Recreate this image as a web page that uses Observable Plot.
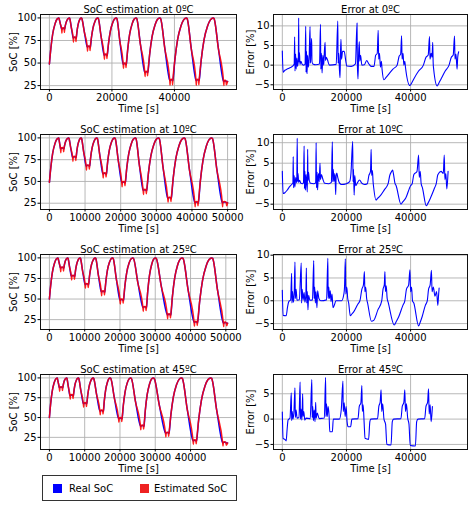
<!DOCTYPE html>
<html><head><meta charset="utf-8">
<script src="https://cdn.jsdelivr.net/npm/d3@7"></script>
<script src="https://cdn.jsdelivr.net/npm/@observablehq/plot@0.6"></script>
<style>
body{margin:0;background:#fff;}
#root{position:relative;width:474px;height:505px;font-family:"DejaVu Sans",sans-serif;background:#fff;overflow:hidden;}
#legend{position:absolute;left:42px;top:475px;width:195px;height:26px;border:1px solid #333;box-sizing:border-box;font-size:10px;color:#000;}
#legend .sw{position:absolute;top:8px;width:9px;height:9px;}
#legend .lb{position:absolute;top:6px;line-height:13px;white-space:nowrap;}
</style></head>
<body><div id="root"><div id="legend">
<div class="sw" style="left:10px;background:#0000ff"></div><div class="lb" style="left:26px">Real SoC</div>
<div class="sw" style="left:97px;background:#ee2222"></div><div class="lb" style="left:111px">Estimated SoC</div>
</div></div>
<script>
const temps = ["0ºC", "10ºC", "25ºC", "45ºC"];

// [time s, real SoC %, estimated SoC %]
const soc0C = [[0,49,49],
[450,65.8,65.8],[1050,82.2,82.2],[1800,93.4,93.4],[2400,98.5,98.5],[3000,100,100],
[3070,99.5,99.5],[3450,94.3,93.8],[3900,88,88],
[4000,87.5,83],[4100,88,88.5],[4400,88.5,89],[4700,88,88],[4800,87.5,84],[4900,88,88],
[5125,92,92],[5425,95.8,95.8],[5800,98.4,98.4],[6100,99.6,99.6],[6400,100,100],
[6500,99.4,99.4],[7000,89.9,89.4],[7600,78,78],
[7700,77.5,73],[7800,78,78.5],[8100,78.5,79],[8400,78,78],[8500,77.5,74],[8600,78,78],
[8840,85.3,85.3],[9160,92.3,92.3],[9560,97.1,97.1],[9880,99.3,99.3],[10200,100,100],
[10350,99.4,99.4],[11150,85.2,84.7],[12100,68,68],
[12200,67.5,63],[12300,68,68.5],[12600,68.5,69],[12900,68,68],[13000,67.5,64],[13100,68,68],
[13460,78.6,78.6],[13940,88.8,88.8],[14540,95.8,95.8],[15020,99,99],[15500,100,100],
[15660,99.4,99.4],[16500,80.3,79.8],[17500,59,59],
[17600,58.5,54],[17700,59,59.5],[18000,59.5,60],[18300,59,59],[18400,58.5,55],[18500,59,59],
[18935,72.5,72.5],[19515,85.7,85.7],[20240,94.7,94.7],[20820,98.8,98.8],[21400,100,100],
[21580,99.4,99.4],[22500,75.5,75],[23600,49,49],
[23700,48.5,44],[23800,49,49.5],[24100,49.5,50],[24400,49,49],[24500,48.5,45],[24600,49,49],
[25065,65.8,65.8],[25685,82.2,82.2],[26460,93.4,93.4],[27080,98.5,98.5],[27700,100,100],
[27920,99.4,99.4],[29100,71.2,70.7],[30500,40,40],
[30600,39.5,35],[30700,40,40.5],[31000,40.5,41],[31300,40,40],[31400,39.5,36],[31500,40,40],
[32070,59.8,59.8],[32830,79,79],[33780,92.2,92.2],[34540,98.2,98.2],[35300,100,100],
[35560,99.4,99.4],[36900,66.9,66.4],[38500,31,31],
[38600,30.5,25.5],[38700,31,31.5],[39000,31.5,32],[39300,31,31],[39400,30.5,26],[39500,31,31],
[40145,53.8,53.8],[41005,75.9,75.9],[42080,91,91],[42940,97.9,97.9],[43800,100,100],
[44050,99.4,99.4],[45350,66.9,66.4],[46900,31,31],
[47000,30.5,25.5],[47100,31,31.5],[47400,31.5,32],[47700,31,31],[47800,30.5,26],[47900,31,31],
[48575,53.8,53.8],[49475,75.9,75.9],[50600,91,91],[51500,97.9,97.9],[52400,100,100],
[52660,99.4,99.4],[54050,66.4,65.9],[55700,30,30],
[55800,29.5,25],[55900,30,30.5],[56200,30.5,31],[56500,30,30],[56600,29.5,26],[57000,29.5,29.5]];

const soc10C = [[0,49,49],
[390,65.8,65.8],[910,82.2,82.2],[1560,93.4,93.4],[2080,98.5,98.5],[2600,100,100],
[2640,99.4,99.4],[2850,94.4,94],[3100,88,88],
[3200,87.5,83],[3300,88,88.5],[3600,88.5,89],[3900,88,88],[4000,87.5,84],[4100,88,88],
[4295,92,92],[4555,95.8,95.8],[4880,98.4,98.4],[5140,99.6,99.6],[5400,100,100],
[5490,99.4,99.4],[5950,89.5,89],[6500,78,78],
[6600,77.5,73],[6700,78,78.5],[7000,78.5,79],[7300,78,78],[7400,77.5,74],[7500,78,78],
[7710,85.3,85.3],[7990,92.3,92.3],[8340,97.1,97.1],[8620,99.3,99.3],[8900,100,100],
[9010,99.4,99.4],[9600,84.5,84],[10300,68,68],
[10400,67.5,63],[10500,68,68.5],[10800,68.5,69],[11100,68,68],[11200,67.5,64],[11300,68,68],
[11600,78.6,78.6],[12000,88.8,88.8],[12500,95.8,95.8],[12900,99,99],[13300,100,100],
[13440,99.4,99.4],[14150,80,79.5],[15000,59,59],
[15100,58.5,54],[15200,59,59.5],[15500,59.5,60],[15800,59,59],[15900,58.5,55],[16000,59,59],
[16345,72.5,72.5],[16805,85.7,85.7],[17380,94.7,94.7],[17840,98.8,98.8],[18300,100,100],
[18460,99.4,99.4],[19300,75,74.5],[20300,49,49],
[20400,48.5,44],[20500,49,49.5],[20800,49.5,50],[21100,49,49],[21200,48.5,45],[21300,49,49],
[21720,65.8,65.8],[22280,82.2,82.2],[22980,93.4,93.4],[23540,98.5,98.5],[24100,100,100],
[24280,99.4,99.4],[25200,70.5,70],[26300,40,40],
[26400,39.5,35],[26500,40,40.5],[26800,40.5,41],[27100,40,40],[27200,39.5,36],[27300,40,40],
[27795,59.8,59.8],[28455,79,79],[29280,92.2,92.2],[29940,98.2,98.2],[30600,100,100],
[30810,99.4,99.4],[31900,66,65.5],[33200,31,31],
[33300,30.5,26],[33400,31,31.5],[33700,31.5,32],[34000,31,31],[34100,30.5,27],[34200,31,31],
[34740,53.8,53.8],[35460,75.9,75.9],[36360,91,91],[37080,97.9,97.9],[37800,100,100],
[38040,99.4,99.4],[39300,63.5,63],[40800,26,26],
[40900,25.5,21],[41000,26,26.5],[41300,26.5,27],[41600,26,26],[41700,25.5,22],[41800,26,26],
[42355,50.4,50.4],[43095,74.1,74.1],[44020,90.4,90.4],[44760,97.8,97.8],[45500,100,100],
[45740,99.4,99.4],[47000,63.5,63],[48500,26,26],
[48600,25.5,21],[48700,26,26.5],[49100,26.5,27],[49600,26,26],[49750,25.5,22],[50000,25.5,25.5]];

const soc25C = [[0,50,50],
[360,66.5,66.5],[840,82.5,82.5],[1440,93.5,93.5],[1920,98.5,98.5],[2400,100,100],
[2460,99.4,99.4],[2750,94.4,94],[3100,88,88],
[3200,87.5,83],[3300,88,88.5],[3600,88.5,89],[3900,88,88],[4000,87.5,84],[4100,88,88],
[4265,92,92],[4485,95.8,95.8],[4760,98.4,98.4],[4980,99.6,99.6],[5200,100,100],
[5280,99.4,99.4],[5700,89.5,89],[6200,78,78],
[6300,77.5,73],[6400,78,78.5],[6700,78.5,79],[7000,78,78],[7100,77.5,74],[7200,78,78],
[7425,85.3,85.3],[7725,92.3,92.3],[8100,97.1,97.1],[8400,99.3,99.3],[8700,100,100],
[8810,99.4,99.4],[9400,84.5,84],[10100,68,68],
[10200,67.5,63],[10300,68,68.5],[10600,68.5,69],[10900,68,68],[11000,67.5,64],[11100,68,68],
[11385,78.6,78.6],[11765,88.8,88.8],[12240,95.8,95.8],[12620,99,99],[13000,100,100],
[13140,99.4,99.4],[13850,80,79.5],[14700,59,59],
[14800,58.5,54],[14900,59,59.5],[15200,59.5,60],[15500,59,59],[15600,58.5,55],[15700,59,59],
[16030,72.5,72.5],[16470,85.7,85.7],[17020,94.7,94.7],[17460,98.8,98.8],[17900,100,100],
[18070,99.4,99.4],[18950,75,74.5],[20000,49,49],
[20100,48.5,44],[20200,49,49.5],[20500,49.5,50],[20800,49,49],[20900,48.5,45],[21000,49,49],
[21390,65.8,65.8],[21910,82.2,82.2],[22560,93.4,93.4],[23080,98.5,98.5],[23600,100,100],
[23830,99.4,99.4],[25050,70.5,70],[26500,40,40],
[26600,39.5,35],[26700,40,40.5],[27000,40.5,41],[27300,40,40],[27400,39.5,36],[27500,40,40],
[27875,59.8,59.8],[28375,79,79],[29000,92.2,92.2],[29500,98.2,98.2],[30000,100,100],
[30270,99.4,99.4],[31700,66,65.5],[33400,31,31],
[33500,30.5,26],[33600,31,31.5],[33900,31.5,32],[34200,31,31],[34300,30.5,27],[34400,31,31],
[34880,53.8,53.8],[35520,75.9,75.9],[36320,91,91],[36960,97.9,97.9],[37600,100,100],
[37870,99.4,99.4],[39300,61.5,61],[41000,22,22],
[41100,21.5,17],[41200,22,22.5],[41500,22.5,23],[41800,22,22],[41900,21.5,18],[42000,22,22],
[42600,47.7,47.7],[43400,72.7,72.7],[44400,89.9,89.9],[45200,97.7,97.7],[46000,100,100],
[46260,99.4,99.4],[47650,61,60.5],[49300,21,21],
[49400,20.5,16.5],[49500,21,21.5],[49800,21.5,22],[50100,21,21],[50250,20.5,17.5],[50500,20.5,20.5]];

const soc45C = [[0,50,50],
[330,66.5,66.5],[770,82.5,82.5],[1320,93.5,93.5],[1760,98.5,98.5],[2200,100,100],
[2250,99.4,99.4],[2500,94.4,94],[2800,88,88],
[2900,87.5,83],[3000,88,88.5],[3300,88.5,89],[3600,88,88],[3700,87.5,84],[3800,88,88],
[3965,92,92],[4185,95.8,95.8],[4460,98.4,98.4],[4680,99.6,99.6],[4900,100,100],
[4970,99.4,99.4],[5350,89.5,89],[5800,78,78],
[5900,77.5,73],[6000,78,78.5],[6300,78.5,79],[6600,78,78],[6700,77.5,74],[6800,78,78],
[7010,85.3,85.3],[7290,92.3,92.3],[7640,97.1,97.1],[7920,99.3,99.3],[8200,100,100],
[8310,99.4,99.4],[8900,84.5,84],[9600,68,68],
[9700,67.5,63],[9800,68,68.5],[10100,68.5,69],[10400,68,68],[10500,67.5,64],[10600,68,68],
[10870,78.6,78.6],[11230,88.8,88.8],[11680,95.8,95.8],[12040,99,99],[12400,100,100],
[12550,99.4,99.4],[13350,79.8,79.3],[14300,58.5,58.5],
[14400,58,53.5],[14500,58.5,59],[14800,59,59.5],[15100,58.5,58.5],[15200,58,54.5],[15300,58.5,58.5],
[15585,72.2,72.2],[15965,85.5,85.5],[16440,94.6,94.6],[16820,98.8,98.8],[17200,100,100],
[17390,99.4,99.4],[18400,75,74.5],[19600,49,49],
[19700,48.5,44],[19800,49,49.5],[20100,49.5,50],[20400,49,49],[20500,48.5,45],[20600,49,49],
[20960,65.8,65.8],[21440,82.2,82.2],[22040,93.4,93.4],[22520,98.5,98.5],[23000,100,100],
[23220,99.4,99.4],[24400,70.3,69.8],[25800,39.5,39.5],
[25900,39,34.5],[26000,39.5,40],[26300,40,40.5],[26600,39.5,39.5],[26700,39,35.5],[26800,39.5,39.5],
[27190,59.5,59.5],[27710,78.8,78.8],[28360,92.1,92.1],[28880,98.2,98.2],[29400,100,100],
[29680,99.4,99.4],[31150,65.8,65.3],[32900,30.5,30.5],
[33000,30,25.5],[33100,30.5,31],[33400,31,31.5],[33700,30.5,30.5],[33800,30,26.5],[33900,30.5,30.5],
[34425,53.4,53.4],[35125,75.7,75.7],[36000,91,91],[36700,97.9,97.9],[37400,100,100],
[37660,99.4,99.4],[39050,61,60.5],[40700,21,21],
[40800,20.5,16],[40900,21,21.5],[41200,21.5,22],[41500,21,21],[41600,20.5,17],[41700,21,21],
[42300,47.1,47.1],[43100,72.4,72.4],[44100,89.7,89.7],[44900,97.6,97.6],[45700,100,100],
[45970,99.4,99.4],[47400,59.8,59.3],[49100,18.5,18.5],
[49200,18,14],[49300,18.5,19],[49600,19,19.5],[50000,18.5,18.5],[50150,18,15],[50500,18,18]];

// [time s, error %]
const err0C = [[0,3.6],[250,-1.8],[800,-1.3],[1500,-1.0],[2500,-0.6],[3300,-0.2],[3700,0.3],
[3850,7.2],[3950,-1.5],[4150,2.8],[4300,-1.0],[4550,1.8],[4750,-0.3],[5000,1.5],[5100,12.0],[5200,0.8],[5350,3.2],[5500,0.2],[5800,1.0],[6200,0.2],[6700,0.0],
[7100,0.3],[7300,9.9],[7400,-1.8],[7550,3.5],[7700,-2.2],[7900,2.5],[8100,-0.5],[8350,1.5],[8650,9.8],[8750,0.5],[8900,3.0],[9150,6.8],[9250,1.0],[9500,0.3],[10500,0.1],[11600,0.3],
[11900,10.4],[12000,-1.0],[12200,3.0],[12400,-2.0],[12650,2.5],[12900,0.0],[13150,4.0],[13350,5.8],[13450,1.2],[13700,2.0],[14100,1.3],[14700,0.0],[16800,0.2],
[17300,11.2],[17400,0.5],[17600,3.0],[17800,-1.0],[18000,-3.2],[18150,3.5],[18300,6.6],[18450,1.5],[18800,3.5],[19300,3.5],[19800,1.0],[20100,-0.2],[21500,-0.3],[22800,0.3],
[23300,10.7],[23400,0.5],[23600,-3.5],[23800,3.0],[24000,6.0],[24150,1.0],[24400,2.5],[24800,0.0],[25600,0.1],[26300,1.2],[27000,0.3],[27700,-0.3],[28600,-0.3],
[29100,2.5],[29600,3.0],[29900,8.9],[30050,1.5],[30300,3.0],[30600,-0.5],[30900,1.0],[31100,-1.0],[31700,-3.7],[32300,-3.2],[33000,-2.5],[34500,-1.0],[35800,0.0],
[36400,2.2],[36900,2.8],[37200,7.5],[37350,1.5],[37650,3.0],[37900,0.0],[38200,1.0],[38400,-0.5],[39800,-5.2],[40300,-4.6],[41000,-3.5],[42500,-1.5],[44000,0.0],
[44800,2.0],[45500,2.6],[45900,7.3],[46050,1.5],[46400,3.0],[46700,2.0],[46900,5.8],[47050,0.5],[47200,-1.0],[48300,-5.3],[48800,-4.6],[49500,-3.5],[50800,-1.5],[52000,0.0],
[52700,2.0],[53300,2.6],[53700,7.4],[53850,1.5],[54150,2.8],[54500,-1.0],[54700,2.0],[55000,3.4]];

const err10C = [[0,3.0],[250,-2.4],[800,-2.2],[1500,-1.6],[2200,-0.8],[2900,-0.2],[3300,0.2],
[3400,6.6],[3500,-1.0],[3700,2.0],[3900,-0.8],[4200,1.5],[4500,0.2],[4650,11.1],[4750,0.5],[4900,2.5],[5100,0.3],[5400,0.8],[5800,0.1],[6300,0.0],
[6600,0.3],[6800,9.2],[6900,-1.2],[7050,3.0],[7200,-1.6],[7400,2.2],[7600,0.2],[7800,-2.0],[7900,8.4],[8000,0.8],[8200,2.8],[8400,0.8],[8800,0.1],[9800,0.0],[10400,0.2],
[10550,10.0],[10650,-1.0],[10850,2.8],[11000,-1.5],[11250,2.5],[11500,0.5],[11750,5.0],[11900,1.0],[12200,2.2],[12600,1.2],[13200,0.1],[14500,0.0],[15300,0.3],
[15600,10.2],[15700,0.5],[15900,3.5],[16100,0.5],[16400,2.5],[16650,-2.7],[16800,2.0],[17000,2.6],[17300,1.5],[17800,0.2],[18500,-0.2],[20000,0.0],[21000,0.5],
[21400,2.5],[21950,10.3],[22050,0.5],[22200,3.5],[22400,-2.8],[22600,2.0],[22900,-0.5],[23400,0.2],[24100,0.9],[24700,0.2],[25600,-0.2],[26500,0.0],
[27000,2.0],[27500,3.0],[27700,8.4],[27850,2.0],[28100,3.2],[28300,0.5],[28500,-1.0],[29200,-4.0],[29700,-3.6],[30500,-3.0],[31800,-1.5],[33000,0.0],
[33500,2.0],[34100,3.0],[34400,3.3],[34700,2.2],[35100,0.2],[35500,-0.5],[37000,-5.0],[37500,-4.5],[38500,-3.5],[40000,-0.5],[40500,0.0],
[41000,2.2],[42000,3.0],[42500,7.0],[42700,1.5],[43000,3.0],[43300,0.0],[43700,-1.0],[44900,-5.4],[45400,-4.8],[46200,-3.5],[47500,-1.0],[48000,0.0],
[48500,2.2],[49500,3.0],[50200,2.5],[50500,7.0],[50700,1.0],[51000,2.5],[51300,-1.3],[51700,3.0]];

const err25C = [[0,2.3],[250,-3.2],[1200,-3.3],[1600,-1.5],[2000,-0.2],[2600,0.2],
[2900,6.0],[3000,-0.5],[3200,2.0],[3450,-0.3],[3700,1.5],[3950,8.5],[4050,0.5],[4300,2.5],[4600,0.1],[5300,0.2],
[5900,8.3],[6000,-0.5],[6200,2.5],[6500,0.2],[6800,1.8],[7050,-0.3],[7350,1.5],[7500,7.2],[7600,-0.5],[7800,2.0],[8000,-2.0],[8200,1.2],[8600,0.1],[9400,0.2],
[9800,8.8],[9900,0.5],[10100,3.0],[10300,-0.5],[10500,2.0],[10800,-1.5],[11000,2.2],[11400,0.5],[12000,0.0],[13800,0.2],
[14200,9.3],[14300,0.5],[14500,3.0],[14700,0.5],[14950,2.2],[15200,-0.2],[15500,1.5],[15800,-1.5],[16200,-1.0],[16700,0.0],[18500,0.0],[19200,1.5],
[19400,3.0],[19650,9.2],[19800,1.5],[20100,3.0],[20400,0.5],[20700,-0.5],[21200,-3.3],[21700,-2.9],[22200,-2.5],[23500,-0.8],[24200,0.0],
[24800,2.5],[25300,3.5],[25600,6.4],[25750,2.0],[26000,3.0],[26300,0.5],[26600,-0.5],[27800,-4.5],[28500,-4.3],[29800,-2.0],[31000,0.0],
[31400,2.5],[31800,3.5],[32000,6.4],[32150,2.0],[32400,3.3],[32700,0.5],[33000,-0.3],[34900,-5.3],[35500,-4.6],[36300,-3.5],[37600,-1.0],[38200,0.0],
[38700,2.5],[39400,3.5],[39800,6.8],[40000,2.0],[40300,3.0],[40600,0.0],[41000,-0.5],[42500,-5.5],[43000,-4.7],[43600,-3.5],[44600,-1.0],[45200,0.0],
[45600,2.5],[46100,3.5],[46500,6.7],[46700,2.0],[47100,3.0],[47600,1.0],[48100,2.0],[48500,-1.0],[48700,1.0],[48900,2.8]];

const err45C = [[0,1.4],[250,-3.8],[800,-4.0],[1200,-4.3],[1500,-2.0],[1800,-0.2],[2400,0.2],
[2800,5.2],[2900,-0.3],[3100,1.5],[3300,0.0],[3600,1.2],[3950,6.2],[4050,0.3],[4300,1.8],[4600,0.2],[5200,0.3],
[5550,7.3],[5650,0.0],[5850,2.0],[6100,-0.2],[6350,5.0],[6450,0.5],[6700,1.5],[7000,-0.2],[7400,0.2],[8700,0.1],
[9200,7.8],[9300,0.3],[9500,2.5],[9700,-0.3],[9950,1.8],[10200,-0.5],[10400,3.3],[10550,0.2],[10900,1.2],[11500,0.1],[13100,0.2],
[13500,8.2],[13600,0.5],[13800,3.0],[14000,0.5],[14300,2.5],[14600,0.5],[14800,-2.5],[15600,-2.5],[15900,0.0],[17800,0.0],
[18400,2.0],[18900,7.5],[19000,1.5],[19300,3.2],[19600,0.5],[19900,2.5],[20200,-0.5],[20500,-1.5],[21300,-1.5],[21700,0.0],[23600,0.1],
[24000,2.5],[24500,3.2],[24800,6.6],[24950,1.5],[25200,2.8],[25500,-0.5],[25800,-3.8],[26900,-4.0],[27300,-0.5],[27600,0.0],[29700,0.1],
[30100,2.5],[30500,3.3],[30800,5.8],[31000,1.5],[31300,3.0],[31700,0.0],[32200,-1.0],[32600,-5.0],[33900,-5.1],[34300,-0.5],[34700,0.0],[37000,0.1],
[37400,2.5],[37900,3.3],[38200,5.8],[38400,1.5],[38700,3.0],[39100,0.2],[39500,-1.0],[39900,-5.2],[41500,-5.3],[41900,-0.5],[42300,0.0],[44400,0.1],
[44800,2.5],[45300,3.3],[45600,6.0],[45800,1.0],[46100,2.8],[46400,-0.5],[46600,0.5],[46800,2.5]];

const socSeries = [soc0C, soc10C, soc25C, soc45C];
const errSeries = [err0C, err10C, err25C, err45C];
const socXDomains = [[-2850, 59850], [-2500, 52500], [-2525, 53025], [-2525, 53025]];
const socXTicks = [[0, 20000, 40000], [0, 10000, 20000, 30000, 40000, 50000], [0, 10000, 20000, 30000, 40000, 50000], [0, 10000, 20000, 30000, 40000]];
const socYDomains = [[20.7, 103.8], [17.8, 103.9], [13, 104.1], [9.7, 104.3]];
const socYTicks = [25, 50, 75, 100];
const errXDomain = [-2750, 57750];
const errXTicks = [0, 20000, 40000];
const errYDomains = [[-6.2, 12.9], [-6.3, 12.0], [-6.3, 10.15], [-6.0, 8.8]];
const errYTicks = [[-5, 0, 5, 10], [-5, 0, 5, 10], [-5, 0, 5, 10], [-5, 0, 5]];

const root = document.getElementById("root");
const fmt = d => d < 0 ? "\u2212" + (-d) : String(d);

function panel(o) {
  const svg = Plot.plot({
    width: o.width, height: 120,
    marginTop: 14, marginBottom: 31, marginLeft: o.ml, marginRight: o.mr,
    x: {domain: o.xd}, y: {domain: o.yd},
    style: {fontFamily: "DejaVu Sans", fontSize: "10px", color: "#000", background: "transparent", overflow: "visible"},
    marks: [
      Plot.gridX(o.xt, {stroke: "#b0b0b0", strokeOpacity: 1, strokeWidth: 0.9}),
      Plot.gridY(o.yt, {stroke: "#b0b0b0", strokeOpacity: 1, strokeWidth: 0.9}),
      ...o.marks,
      Plot.frame({stroke: "#111", strokeWidth: 1}),
      Plot.axisX(o.xt, {tickSize: 2.5, tickPadding: 1.5, tickFormat: fmt, label: null}),
      Plot.axisY(o.yt, {tickSize: 2.5, tickPadding: 1.5, tickFormat: fmt, label: null}),
      Plot.text([o.title], {text: d => d, frameAnchor: "top", lineAnchor: "bottom", dy: -2}),
      Plot.text(["Time [s]"], {text: d => d, frameAnchor: "bottom", lineAnchor: "middle", dy: 19}),
      Plot.text([o.ylabel], {text: d => d, frameAnchor: "left", textAnchor: "middle", lineAnchor: "middle", dx: o.ylx, rotate: -90})
    ]
  });
  svg.style.position = "absolute";
  svg.style.left = o.left + "px";
  svg.style.top = o.top + "px";
  root.appendChild(svg);
}

temps.forEach((tp, i) => {
  const top = i * 120;
  panel({
    left: 0, top, width: 237, ml: 40, mr: 1,
    xd: socXDomains[i], xt: socXTicks[i], yd: socYDomains[i], yt: socYTicks,
    title: "SoC estimation at " + tp, ylabel: "SoC [%]", ylx: -27,
    marks: [
      Plot.line(socSeries[i], {x: d => d[0], y: d => d[1], stroke: "#0000ff", strokeWidth: 1.5, curve: "monotone-x"}),
      Plot.line(socSeries[i], {x: d => d[0], y: d => d[2], stroke: "#ff0000", strokeOpacity: 0.88, strokeWidth: 1.5, curve: "monotone-x"})
    ]
  });
  panel({
    left: 237, top, width: 237, ml: 36, mr: 7,
    xd: errXDomain, xt: errXTicks, yd: errYDomains[i], yt: errYTicks[i],
    title: "Error at " + tp, ylabel: "Error [%]", ylx: -23,
    marks: [
      Plot.line(errSeries[i], {x: d => d[0], y: d => d[1], stroke: "#0000ff", strokeWidth: 1.1, curve: "monotone-x"})
    ]
  });
});
</script>
</body></html>
